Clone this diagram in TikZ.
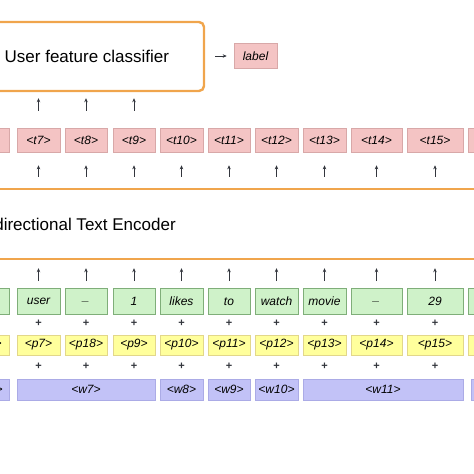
\documentclass[tikz,border=0pt]{standalone}
\usepackage{fontspec}
\setmainfont{Liberation Sans}
\usetikzlibrary{arrows.meta}
\definecolor{pinkF}{HTML}{F4C4C4}
\definecolor{pinkD}{HTML}{D8A8A8}
\definecolor{greenF}{HTML}{CFF2C9}
\definecolor{greenD}{HTML}{7FAE79}
\definecolor{yelF}{HTML}{FFFF9C}
\definecolor{yelD}{HTML}{E2D78A}
\definecolor{purF}{HTML}{C2C2F7}
\definecolor{purD}{HTML}{ABABE6}
\definecolor{orangeL}{HTML}{F0A54C}
\definecolor{arrC}{HTML}{33363D}
\tikzset{
  tok/.style={inner sep=0pt, font=\fontsize{12}{14}\selectfont\itshape, text=black},
  tbox/.style={tok, draw=pinkD, fill=pinkF, line width=0.6pt, minimum height=24pt},
  gbox/.style={tok, draw=greenD, fill=greenF, line width=0.6pt, minimum height=26pt},
  ybox/.style={tok, draw=yelD, fill=yelF, line width=0.6pt, minimum height=20pt},
  pbox/.style={tok, draw=purD, fill=purF, line width=0.6pt, minimum height=21pt},
  arr/.style={draw=arrC, line width=0.9pt, -{Stealth[length=4pt,width=3.5pt]}},
  plus/.style={inner sep=0pt, font=\fontsize{11}{12}\selectfont\bfseries, text=arrC},
  bigtxt/.style={inner sep=0pt, font=\fontsize{17}{20}\selectfont, text=black},
}
\begin{document}
\begin{tikzpicture}[x=1pt,y=-1pt]
\useasboundingbox (0,0) rectangle (474,474);
\clip (0,0) rectangle (474,474);
% classifier
\node[draw=orangeL, line width=2.4pt, rounded corners=5pt, minimum width=264pt, minimum height=69pt, inner sep=0pt] (cls) at (72,56.5) {};
\node[bigtxt, anchor=west] (clstxt) at (4.5,56.5) {User feature classifier};
\node[tok, draw=pinkD, fill=pinkF, line width=0.6pt, minimum width=43pt, minimum height=25pt] (lab) at (255.5,56) {label};
\draw[arr, shorten <=10pt, shorten >=7pt] (cls.east |- lab.west) -- (lab.west);
% encoder
\node[draw=orangeL, line width=2.4pt, minimum width=640pt, minimum height=70pt, inner sep=0pt] (enc) at (237,224) {};
\node[bigtxt, anchor=west] (enctxt) at (-21,224) {Bidirectional Text Encoder};
% t row
\node[tbox, minimum width=42pt] (t6) at (-12,140) {<t6>};
\node[tbox, minimum width=43pt] (t7) at (38.5,140) {<t7>};
\node[tbox, minimum width=42pt] (t8) at (86,140) {<t8>};
\node[tbox, minimum width=42pt] (t9) at (134,140) {<t9>};
\node[tbox, minimum width=43pt] (t10) at (181.5,140) {<t10>};
\node[tbox, minimum width=42pt] (t11) at (229,140) {<t11>};
\node[tbox, minimum width=43pt] (t12) at (276.5,140) {<t12>};
\node[tbox, minimum width=43pt] (t13) at (324.5,140) {<t13>};
\node[tbox, minimum width=51pt] (t14) at (376.5,140) {<t14>};
\node[tbox, minimum width=56pt] (t15) at (435,140) {<t15>};
\node[tbox, minimum width=56pt] (t16) at (496,140) {<t16>};
% green row
\node[gbox, minimum width=42pt] (g0) at (-12,301.5) {id:};
\node[gbox, minimum width=43pt] (g1) at (38.5,301.5) {user};
\node[gbox, minimum width=42pt] (g2) at (86,301.5) {\_};
\node[gbox, minimum width=42pt] (g3) at (134,301.5) {1};
\node[gbox, minimum width=43pt] (g4) at (181.5,301.5) {likes};
\node[gbox, minimum width=42pt] (g5) at (229,301.5) {to};
\node[gbox, minimum width=43pt] (g6) at (276.5,301.5) {watch};
\node[gbox, minimum width=43pt] (g7) at (324.5,301.5) {movie};
\node[gbox, minimum width=51pt] (g8) at (376.5,301.5) {\_};
\node[gbox, minimum width=56pt] (g9) at (435,301.5) {29};
\node[gbox, minimum width=56pt] (g10) at (496,301.5) {.};
% yellow row
\node[ybox, minimum width=42pt] (p6) at (-12,345) {<p6>};
\node[ybox, minimum width=43pt] (p7) at (38.5,345) {<p7>};
\node[ybox, minimum width=42pt] (p18) at (86,345) {<p18>};
\node[ybox, minimum width=42pt] (p9) at (134,345) {<p9>};
\node[ybox, minimum width=43pt] (p10) at (181.5,345) {<p10>};
\node[ybox, minimum width=42pt] (p11) at (229,345) {<p11>};
\node[ybox, minimum width=43pt] (p12) at (276.5,345) {<p12>};
\node[ybox, minimum width=43pt] (p13) at (324.5,345) {<p13>};
\node[ybox, minimum width=51pt] (p14) at (376.5,345) {<p14>};
\node[ybox, minimum width=56pt] (p15) at (435,345) {<p15>};
\node[ybox, minimum width=56pt] (p16) at (496,345) {<p16>};
% purple row
\node[pbox, minimum width=42pt] (w6) at (-12,389.5) {<w6>};
\node[pbox, minimum width=138pt] (w7) at (86,389.5) {<w7>};
\node[pbox, minimum width=43pt] (w8) at (181.5,389.5) {<w8>};
\node[pbox, minimum width=42pt] (w9) at (229,389.5) {<w9>};
\node[pbox, minimum width=43pt] (w10) at (276.5,389.5) {<w10>};
\node[pbox, minimum width=160pt] (w11) at (383,389.5) {<w11>};
\node[pbox, minimum width=56pt] (w12) at (499,389.5) {<w12>};
% arrows t -> classifier
\foreach \n in {t7,t8,t9}
  \draw[arr, shorten <=17pt, shorten >=6pt] (\n.north) -- (\n.north |- cls.south);
% arrows encoder -> t
\foreach \n in {t7,t8,t9,t10,t11,t12,t13,t14,t15}
  \draw[arr, shorten <=11pt, shorten >=13pt] (\n.south |- enc.north) -- (\n.south);
% arrows green -> encoder
\foreach \n in {g1,g2,g3,g4,g5,g6,g7,g8,g9}
  \draw[arr, shorten <=7pt, shorten >=8pt] (\n.north) -- (\n.north |- enc.south);
% plus signs
\foreach \n/\x in {1/38.5,2/86,3/134,4/181.5,5/229,6/276.5,7/324.5,8/376.5,9/435}{
  \node[plus] (pa\n) at (\x,323) {+};
  \node[plus] (pb\n) at (\x,366) {+};
}
\end{tikzpicture}
\end{document}
